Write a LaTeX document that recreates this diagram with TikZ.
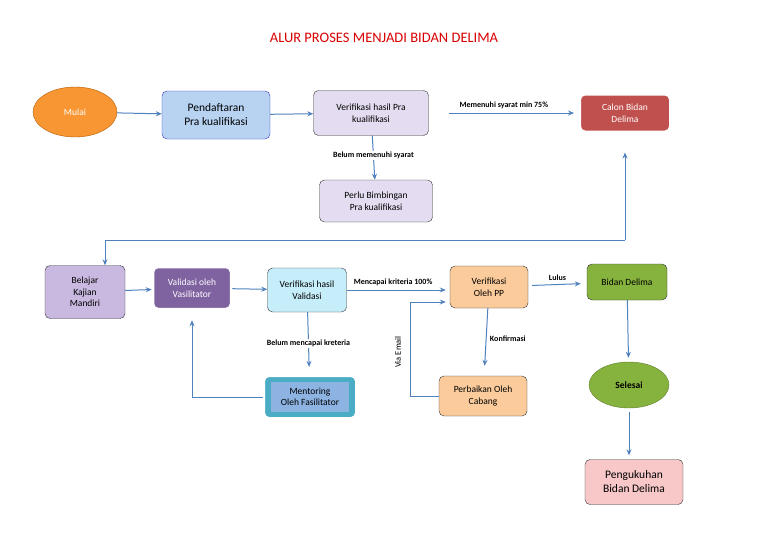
\documentclass[tikz,border=0pt]{standalone}
\usepackage{fontspec}
\setmainfont{Carlito}
\usetikzlibrary{shapes.geometric,arrows.meta}
\definecolor{lav}{HTML}{E4DCF0}
\definecolor{lblue}{HTML}{B8D3F2}
\definecolor{mblue}{HTML}{8DB3E2}
\definecolor{lcyan}{HTML}{C6EEFA}
\definecolor{lorange}{HTML}{FBCB9C}
\definecolor{dpurple}{HTML}{7F62A0}
\definecolor{mpurple}{HTML}{C9B9E0}
\definecolor{cred}{HTML}{C0504D}
\definecolor{cgreen}{HTML}{86B23E}
\definecolor{pink}{HTML}{F8C8C8}
\definecolor{teal}{HTML}{4BACC6}
\definecolor{arr}{HTML}{4F81BD}
\definecolor{morange}{HTML}{F79633}
\begin{document}
\begin{tikzpicture}[x=1pt,y=-1pt,
  box/.style={draw=#1!60!gray,rounded corners=5pt,align=center,font=\fontsize{9.5}{11.5}\selectfont,inner sep=1pt},
  ar/.style={draw=arr,line width=1pt,-{Stealth[length=6pt,width=5pt]}},
  ln/.style={draw=arr,line width=0.8pt},
  lab/.style={font=\bfseries\fontsize{8}{9.5}\selectfont}]
\useasboundingbox (0,0) rectangle (768,543);
\node[font=\fontsize{14.5}{16}\selectfont,text=red!85!black] (title) at (384,38) {ALUR PROSES MENJADI BIDAN DELIMA};
\node[ellipse,fill=morange,draw=orange!70!black,minimum width=84,minimum height=50,text=white,font=\fontsize{9.5}{11}\selectfont] (mulai) at (75,112) {Mulai};
\node[box=blue,fill=lblue,minimum width=108,minimum height=48,font=\fontsize{11.5}{14}\selectfont] (daftar) at (216,115) {Pendaftaran\\Pra kualifikasi};
\node[box=black,fill=lav,minimum width=115,minimum height=45] (verif) at (371,113) {Verifikasi hasil Pra\\kualifikasi};
\node[box=black,fill=cred,draw=white,line width=2pt,minimum width=90,minimum height=37,text=white] (calon) at (625,113) {Calon Bidan\\Delima};
\node[box=black,fill=lav,minimum width=113,minimum height=42] (perlu) at (376,201) {Perlu Bimbingan\\Pra kualifikasi};
\node[box=black,fill=mpurple,minimum width=80,minimum height=53] (belajar) at (85,292) {Belajar\\Kajian\\Mandiri};
\node[box=black,fill=dpurple,draw=white,line width=2.5pt,minimum width=78,minimum height=42,text=white] (valid) at (192,288) {Validasi oleh\\Vasilitator};
\node[box=black,fill=lcyan,minimum width=79,minimum height=44] (vval) at (307,290) {Verifikasi hasil\\Validasi};
\node[box=black,fill=lorange,minimum width=78,minimum height=42] (pp) at (489,287) {Verifikasi\\Oleh PP};
\node[box=black,fill=teal,draw=white,line width=2pt,minimum width=92,minimum height=42] (mentor) at (310,397) {};
\node[fill=mblue,align=center,font=\fontsize{9.5}{11.5}\selectfont,minimum width=78,minimum height=30,inner sep=1pt] (mentort) at (310,397) {Mentoring\\Oleh Fasilitator};
\node[box=black,fill=lorange,minimum width=88,minimum height=40] (perb) at (483,396) {Perbaikan Oleh\\Cabang};
\node[box=black,fill=cgreen,minimum width=80,minimum height=36] (bidan) at (627,282) {Bidan Delima};
\node[ellipse,fill=cgreen,draw=cgreen!70!black,minimum width=80,minimum height=46,font=\fontsize{9.5}{11}\selectfont\bfseries] (selesai) at (629,385) {Selesai};
\node[box=black,fill=pink,minimum width=98,minimum height=45,font=\fontsize{11.5}{14}\selectfont] (kukuh) at (634,482) {Pengukuhan\\Bidan Delima};
\node[rotate=90,font=\fontsize{8.5}{9}\selectfont] (vialab) at (398,352) {Via Email};
\coordinate (c1) at (625,240);
\coordinate (c2) at (105,240);
\coordinate (c3) at (410,302);
\coordinate (c4) at (192,402);
\draw[ar] (mulai) -- (daftar);
\draw[ar] (daftar) -- (verif);
\draw[ar,shorten <=20pt,shorten >=5pt] (verif.east|-calon) -- node[lab,above] {Memenuhi syarat min 75\%} (calon.west);
\draw[ar] (verif) -- node[lab,pos=0.45,fill=white,inner sep=1pt] {Belum memenuhi syarat} (perlu);
\draw[ar] (c1) -- ([yshift=-20pt]calon.south);
\draw[ar] (c1) -- (c2) -- (belajar.north-|c2);
\draw[ar] (belajar) -- (valid);
\draw[ar] (valid) -- (vval);
\draw[ar,shorten >=4pt] (vval.east) -- node[lab,above,pos=0.45] {Mencapai kriteria 100\%} (pp.west|-vval.east);
\draw[ar,shorten >=8pt] (vval) -- node[lab,fill=white,inner sep=1pt] {Belum mencapai kreteria} (mentor);
\draw[ln] (mentor.west) -- (mentor.west-|c4);
\draw[ar,shorten >=10pt] (mentor.west-|c4) -- (valid.south);
\draw[ar,shorten >=10pt] (pp) -- node[lab,right,pos=0.45] {Konfirmasi} (perb);
\draw[ar,shorten >=4pt] (perb.west) -| (c3) -- (c3-|pp.west);
\draw[ar,shorten <=4pt,shorten >=6pt] (pp) -- node[lab,above] {Lulus} (bidan);
\draw[ar,shorten >=4pt] (bidan) -- (selesai);
\draw[ar,shorten <=4pt,shorten >=4pt] (selesai) -- (selesai|-kukuh.north);
\end{tikzpicture}
\end{document}
